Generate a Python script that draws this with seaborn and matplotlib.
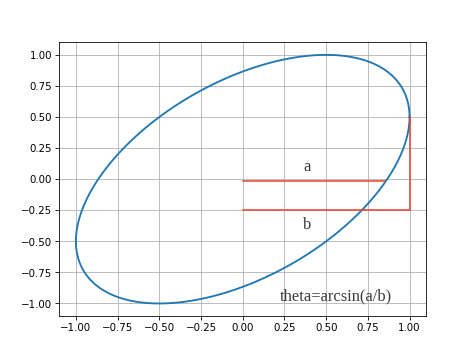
import numpy as np
import pandas as pd
import matplotlib
matplotlib.use("Agg")
import matplotlib.pyplot as plt
import seaborn as sns

# Curve parameters (Lissajous ellipse)
x_amplitude = 1.0
y_amplitude = 1.0
phase_deg = 60.0
n_samples = 400

# Red construction lines
line_a_x = [0.0, 0.85]
line_a_y = [-0.015, -0.015]
line_b_x = [0.0, 1.0, 1.0]
line_b_y = [-0.25, -0.25, 0.5]

# Annotations
labels = ["a", "b", "theta=arcsin(a/b)"]
label_x = [0.385, 0.385, 0.225]
label_y = [0.1, -0.37, -0.945]
label_ha = ["center", "center", "left"]

t = np.linspace(0, 2 * np.pi, n_samples)
df = pd.DataFrame({
    "x": x_amplitude * np.cos(t),
    "y": y_amplitude * np.cos(t - np.deg2rad(phase_deg)),
})

plt.rcParams.update(matplotlib.rcParamsDefault)
fig, ax = plt.subplots(figsize=(6.4, 4.8), dpi=74)

sns.lineplot(data=df, x="x", y="y", sort=False, estimator=None,
             color="#1f77b4", linewidth=1.8, ax=ax)
ax.plot(line_a_x, line_a_y, color="#e2432d", linewidth=1.5)
ax.plot(line_b_x, line_b_y, color="#e2432d", linewidth=1.5)

for s, lx, ly, ha in zip(labels, label_x, label_y, label_ha):
    ax.text(lx, ly, s, ha=ha, va="center", fontsize=16,
            family="Liberation Serif", color="#3a3a3a")

ax.set_xticks(np.arange(-1.0, 1.01, 0.25))
ax.set_yticks(np.arange(-1.0, 1.01, 0.25))
ax.set_xlabel("")
ax.set_ylabel("")
ax.grid(True)

fig.savefig("out.png", dpi=74)
